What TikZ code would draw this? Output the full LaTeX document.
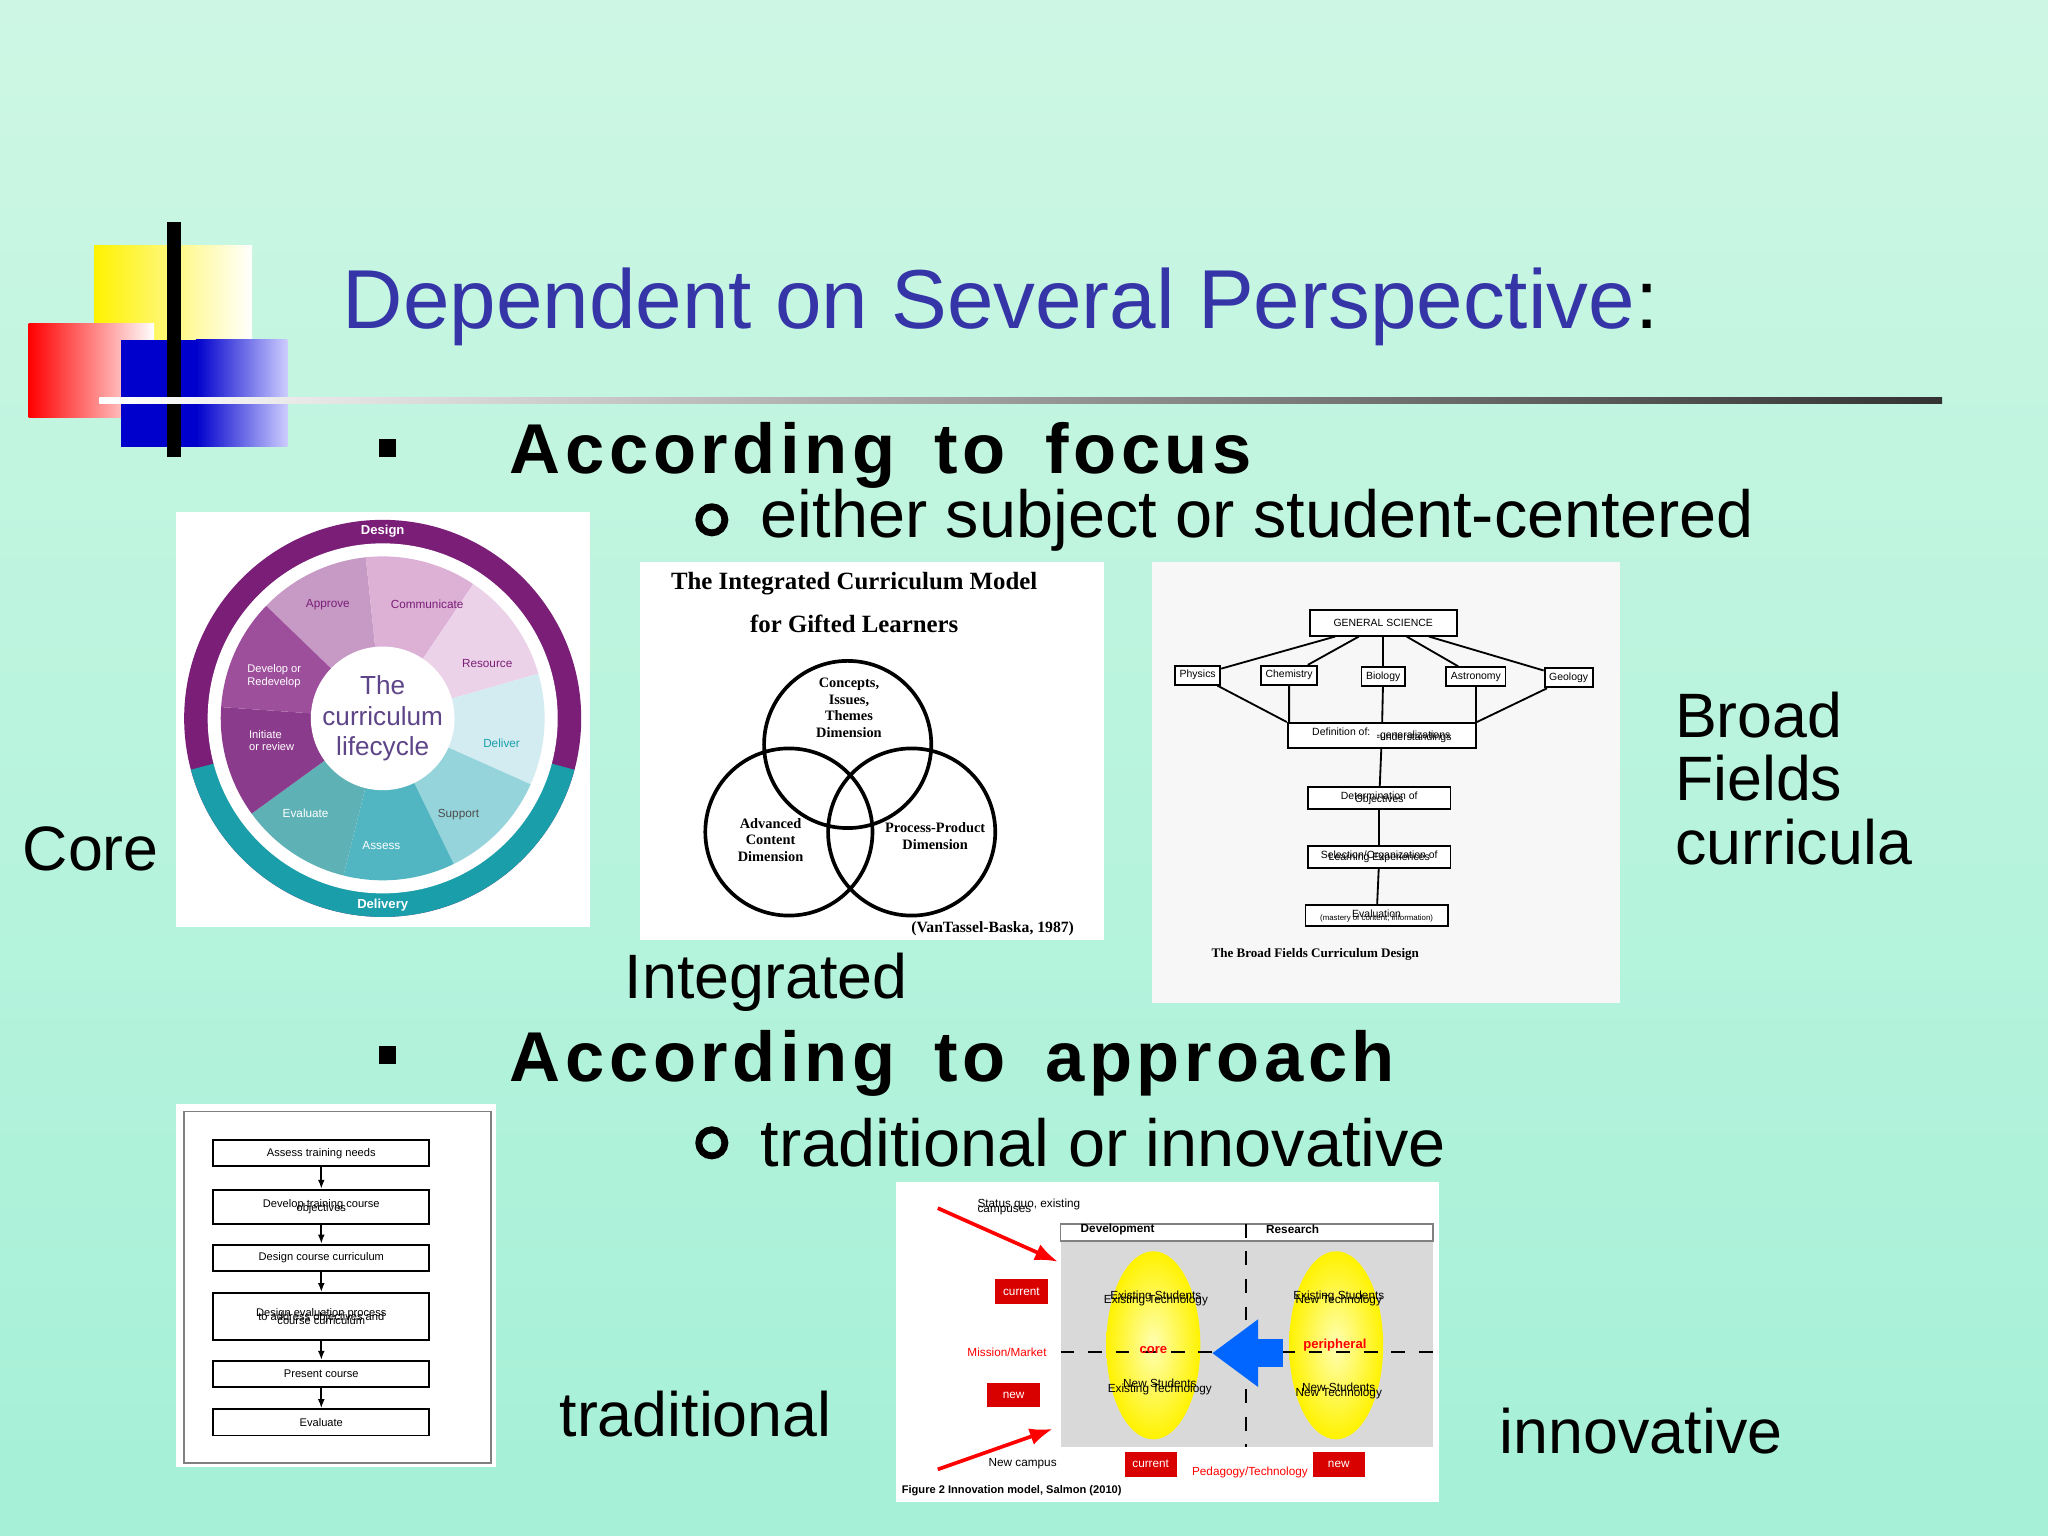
\documentclass[tikz,border=0pt]{standalone}
\usepackage{fontspec}
\setmainfont{Liberation Sans}
\newfontfamily\serifx{Liberation Serif}
\usetikzlibrary{shapes.geometric,arrows.meta}
\newcommand\fsz[1]{\fontsize{\fpeval{#1*0.2845}}{\fpeval{#1*0.33}}\selectfont}
\definecolor{titleblue}{HTML}{3535A8}
\definecolor{wpurple}{HTML}{7A1E78}
\definecolor{wteal}{HTML}{1A9FAA}
\tikzset{
  bf/.style={draw, fill=white, font=\fsz{8}, align=center, inner sep=1pt},
  fc/.style={draw, fill=white, font=\fsz{8.5}, align=center, minimum width=47pt, inner sep=0.6pt},
  redbox/.style={fill=red!85!black, text=white, font=\fsz{9}, minimum width=11.4pt, minimum height=5.4pt, inner sep=1pt},
  big/.style={font=\fsz{48}, anchor=west},
  lbl/.style={font=\fsz{9}, align=center, inner sep=0.5pt},
}
\begin{document}
\begin{tikzpicture}[x=0.01cm,y=-0.01cm]
\useasboundingbox (0,0) rectangle (1568,1176);
\shade[top color={rgb,255:red,205;green,247;blue,228}, bottom color={rgb,255:red,165;green,240;blue,215}] (0,0) rectangle (1568,1176);
% logo
\shade[left color=yellow!90!orange, right color=white] (72,188) rectangle (193,262);
\shade[left color=red, right color=white] (22,248) rectangle (118,320);
\fill[blue!80!black] (93,260) rectangle (150,342);
\shade[left color=blue!80!black, right color=white!80!blue] (150,260) rectangle (220,342);
\draw[line width=3pt] (133,170) -- (133,350);
\shade[left color=white, right color=black!80] (76,304) rectangle (1487,309);
% title
\node[anchor=west, text=titleblue, font=\fsz{64}] (title) at (250,235) {Dependent on Several Perspective\textcolor{black}{:}};
% bullets
\fill (290,336) rectangle (303,350);
\node[anchor=west, font=\bfseries\fsz{54}] (focus) at (378,349) {A\kern1pt c\kern1pt c\kern1pt o\kern1pt r\kern1pt d\kern1pt i\kern1pt n\kern1pt g\ \ t\kern1pt o\ \ f\kern1pt o\kern1pt c\kern1pt u\kern1pt s};
\draw[line width=1.5pt] (545,398) circle (10);
\node[anchor=west, font=\fsz{51}] (either) at (570,398) {either subject or student-centered};
\fill (290,801) rectangle (303,815);
\node[anchor=west, font=\bfseries\fsz{54}] (appr) at (378,814) {A\kern1pt c\kern1pt c\kern1pt o\kern1pt r\kern1pt d\kern1pt i\kern1pt n\kern1pt g\ \ t\kern1pt o\ \ a\kern1pt p\kern1pt p\kern1pt r\kern1pt o\kern1pt a\kern1pt c\kern1pt h};
\draw[line width=1.5pt] (545,875) circle (10);
\node[anchor=west, font=\fsz{51}] (trad) at (570,875) {traditional or innovative};
% labels
\node[big] (core) at (5,650) {Core};
\node[big] (integ) at (466,752) {Integrated};
\node[big, align=left] (broad) at (1270,596) {Broad\\[-2pt]Fields\\[-2pt]curricula};
\node[big] (tradl) at (416,1083) {traditional};
\node[big] (innov) at (1136,1096) {innovative};

% ---- wheel ----
\fill[white] (135,392) rectangle (452,710);
\begin{scope}[shift={(293,550)}, y=0.01cm]
  \fill[wpurple] (0,0) circle (152);
  \fill[wteal] (0,0) -- (-15:152) arc (-15:-165:152) -- cycle;
  \fill[white] (0,0) circle (134);
  \foreach \a/\c in {116/C79AC6, 76/DDB0D6, 36/ECD2E8, -4/D3ECF1, -44/95D4DB, -84/52B6C2, -124/5EB2B6, -164/8B3B8B, 156/9D4F9C}{
    \definecolor{segc}{HTML}{\c}
    \fill[segc] (0,0) -- (\a-20:124) arc (\a-20:\a+20:124) -- cycle;
  }
  \fill[white] (0,0) circle (55);
  \node[font=\bfseries\fsz{10}, text=white] at (90:143) {Design};
  \node[font=\bfseries\fsz{10}, text=white] at (-90:143) {Delivery};
\end{scope}
\node[lbl, text=wpurple] at (251,463) {Approve};
\node[lbl, text=wpurple] at (327,463) {Communicate};
\node[lbl, text=wpurple] at (373,508) {Resource};
\node[lbl, text=wteal] at (384,569) {Deliver};
\node[lbl, text=black!70] at (351,624) {Support};
\node[lbl, text=white] at (292,647) {Assess};
\node[lbl, text=white] at (234,623) {Evaluate};
\node[lbl, text=white, align=left, font=\fsz{8.5}] at (208,567) {Initiate\\or review};
\node[lbl, text=white, align=left, font=\fsz{8.5}] at (210,518) {Develop or\\Redevelop};
\node[align=center, font=\fsz{20}, text=wpurple!70!wteal] (wc) at (293,550) {The\\curriculum\\lifecycle};

% ---- integrated model ----
\fill[white] (490,430) rectangle (845,720);
\node[font=\serifx\bfseries\fsz{19}] (it1) at (654,447) {The Integrated Curriculum Model};
\node[font=\serifx\bfseries\fsz{19}] (it2) at (654,478) {for Gifted Learners};
\draw[thick] (649,570) circle (64) (604,637) circle (64) (698,637) circle (64);
\node[font=\serifx\bfseries\fsz{11}, align=center] at (650,542) {Concepts,\\Issues,\\Themes\\Dimension};
\node[font=\serifx\bfseries\fsz{11}, align=center] at (590,643) {Advanced\\Content\\Dimension};
\node[font=\serifx\bfseries\fsz{11}, align=center] at (716,640) {Process-Product\\Dimension};
\node[font=\serifx\bfseries\fsz{12}] at (760,711) {(VanTassel-Baska, 1987)};

% ---- broad fields ----
\fill[white!94!gray] (882,430) rectangle (1240,768);
\node[bf, minimum width=32pt, minimum height=5.5pt] (gs) at (1059,477) {GENERAL SCIENCE};
\node[bf] (ph) at (917,517) {Physics};
\node[bf] (ch) at (987,517) {Chemistry};
\node[bf] (bi) at (1059,518) {Biology};
\node[bf] (as) at (1130,518) {Astronomy};
\node[bf] (ge) at (1201,519) {Geology};
\node[bf, minimum width=41pt, align=left] (de) at (1058,563) {Definition of:\\[-2pt]\hspace{14pt}-generalizations\\[-2pt]\hspace{14pt}-understandings};
\node[bf, minimum width=31pt] (dt) at (1056,611) {Determination of\\[-2pt]Objectives};
\node[bf, minimum width=31pt] (so) at (1056,656) {Selection/Organization of\\[-2pt]Learning Experiences};
\node[bf, minimum width=31pt] (ev) at (1054,701) {Evaluation\\[-2pt]{\fsz{6}(mastery of content, information)}};
\foreach \n in {ph,ch,bi,as,ge} \draw (gs) -- (\n);
\draw (ph) -- (de.north west) (ge) -- (de.north east) (ch) -- (de.north -| ch) (bi) -- (de) (as) -- (de.north -| as);
\draw (de) -- (dt); \draw (dt) -- (so); \draw (so) -- (ev);
\node[font=\serifx\bfseries\fsz{10}] (bfc) at (1007,731) {The Broad Fields Curriculum Design};

% ---- flowchart ----
\fill[white] (135,845) rectangle (380,1123);
\draw[gray] (141,851) rectangle (376,1120);
\node[fc, minimum height=5.7pt] (f1) at (246,883) {Assess training needs};
\node[fc, minimum height=7.4pt] (f2) at (246,924) {Develop training course\\[-2pt]objectives};
\node[fc, minimum height=5.7pt] (f3) at (246,963) {Design course curriculum};
\node[fc, minimum height=10.2pt] (f4) at (246,1008) {Design evaluation process\\[-2pt]to address objectives and\\[-2pt]course curriculum};
\node[fc, minimum height=5.7pt] (f5) at (246,1052) {Present course};
\node[fc, minimum height=5.7pt] (f6) at (246,1089) {Evaluate};
\foreach \a/\b in {f1/f2,f2/f3,f3/f4,f4/f5,f5/f6} \draw[-{Latex[length=2pt]}] (\a) -- (\b);

% ---- innovation model ----
\fill[white] (686,905) rectangle (1102,1150);
\fill[gray!30] (812,950) rectangle (1097,1108);
\draw[gray] (812,937) rectangle (1097,950);
\node[font=\bfseries\fsz{9}, anchor=west] at (815,941) {Development};
\node[font=\bfseries\fsz{9}, anchor=west] at (957,941) {Research};
\shade[inner color=yellow!30, outer color=yellow!90!orange] (883,1030) ellipse (36 and 72);
\shade[inner color=yellow!30, outer color=yellow!90!orange] (1023,1030) ellipse (36 and 72);
\draw[dashed] (954,937) -- (954,1108);
\draw[dashed] (812,1035) -- (1097,1035);
\node[lbl] at (885,994) {Existing Students\\[-2pt]Existing Technology};
\node[lbl] at (1025,994) {Existing Students\\[-2pt]New Technology};
\node[lbl] at (888,1062) {New Students\\[-2pt]Existing Technology};
\node[lbl] at (1025,1065) {New Students\\[-2pt]New Technology};
\node[font=\bfseries\fsz{10}, text=red] (core2) at (883,1034) {core};
\node[font=\bfseries\fsz{10}, text=red] (peri) at (1022,1030) {peripheral};
\draw[blue!60!cyan, line width=6pt, -{Triangle[length=10pt,width=14pt]}] (982,1036) -- (928,1036);
\node[redbox] (cur1) at (782,989) {current};
\node[redbox] (new1) at (776,1068) {new};
\node[redbox] (cur2) at (881,1121) {current};
\node[redbox] (new2) at (1025,1121) {new};
\node[font=\fsz{9}, text=red, inner sep=0.5pt] (mm) at (771,1035) {Mission/Market};
\node[font=\fsz{9}, text=red, inner sep=0.5pt] (pt) at (957,1127) {Pedagogy/Technology};
\node[lbl, align=left, anchor=west] (sq) at (746,924) {Status quo, existing\\[-2pt]campuses};
\node[lbl] (nc) at (783,1121) {New campus};
\coordinate (r1) at (718,925); \coordinate (r1e) at (810,966);
\coordinate (r2) at (718,1125); \coordinate (r2e) at (806,1094);
\draw[red, thick, -{Latex[length=5pt]}] (r1) -- (r1e);
\draw[red, thick, -{Latex[length=5pt]}] (r2) -- (r2e);
\node[font=\bfseries\fsz{8.5}, anchor=west, inner sep=0.5pt] (fig) at (688,1141) {Figure 2 Innovation model, Salmon (2010)};
\end{tikzpicture}
\end{document}
